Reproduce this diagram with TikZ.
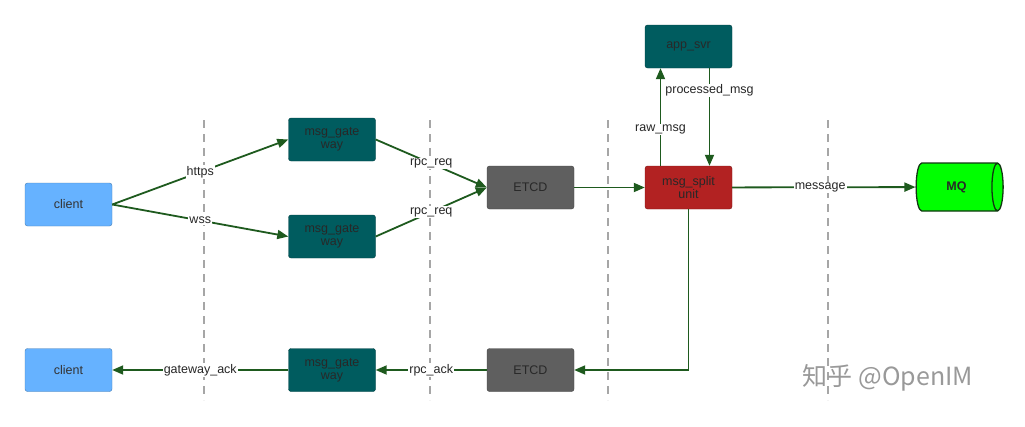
\documentclass[tikz,border=0pt]{standalone}
\usepackage{fontspec}
\setmainfont{Liberation Sans}
\newfontfamily\cjk{Noto Sans CJK SC}
\usetikzlibrary{shapes.geometric,arrows.meta}
\definecolor{arr}{RGB}{30,90,30}
\definecolor{tealc}{RGB}{0,92,95}
\definecolor{etcd}{RGB}{95,95,95}
\definecolor{cl}{RGB}{102,178,255}
\definecolor{txt}{RGB}{40,40,40}
\definecolor{redc}{RGB}{178,34,34}
\begin{document}
\begin{tikzpicture}[x=1pt,y=-1pt,
 box/.style={draw=#1!70!black,fill=#1,rounded corners=2.5pt,minimum width=87pt,minimum height=43pt,inner sep=0pt,align=center,font=\fontsize{12.5}{13}\selectfont,text=txt},
 ar/.style={draw=arr,line width=1.8pt,-{Triangle[length=11pt,width=9pt]}},
 lab/.style={fill=white,inner sep=1pt,font=\fontsize{12.5}{13}\selectfont,text=black!85},
 sep/.style={draw=gray!70,line width=1.3pt,dash pattern=on 8pt off 6pt}]
\useasboundingbox (0,0) rectangle (1025,426);
\foreach \x in {204,430,608,828} \draw[sep] (\x,120) -- (\x,400);
\node[box=cl,text=black!80] (c1) at (68.5,204.5) {client};
\node[box=tealc] (g1) at (332,139.5) {msg\_gate\\way};
\node[box=tealc] (g2) at (332,236.5) {msg\_gate\\way};
\node[box=etcd] (e1) at (530.5,187.5) {ETCD};
\node[box=redc] (s) at (688.5,187.5) {msg\_split\\unit};
\node[box=tealc] (a) at (688.5,46.5) {app\_svr};
\node[cylinder,draw=arr!60!black,line width=1.3pt,fill={rgb,255:red,0;green,255;blue,0},minimum height=87pt,minimum width=48pt,shape aspect=1.0,inner sep=0pt,font=\bfseries\fontsize{12.5}{13}\selectfont,text=txt] (mq) at (956.5,187) {MQ};
\node[box=cl,text=black!80] (c2) at (68.5,370) {client};
\node[box=tealc] (g3) at (332,370) {msg\_gate\\way};
\node[box=etcd] (e2) at (530.5,370) {ETCD};
\draw[ar] (c1.east) -- node[lab,pos=0.5]{https} (g1.west);
\draw[ar] (c1.east) -- node[lab,pos=0.5]{wss} (g2.west);
\draw[ar] (g1.east) -- node[lab,pos=0.5]{rpc\_req} (e1.west);
\draw[ar] (g2.east) -- node[lab,pos=0.5]{rpc\_req} (e1.west);
\draw[ar] (e1) -- (s);
\draw[ar] (s) -- node[lab,pos=0.48]{message} (mq);
\coordinate (s1) at ([xshift=-28pt]s.north);
\coordinate (a1) at ([xshift=-28pt]a.south);
\coordinate (s2) at ([xshift=21pt]s.north);
\coordinate (a2) at ([xshift=21pt]a.south);
\draw[ar] (s1) -- node[lab,pos=0.37]{raw\_msg} (a1);
\draw[ar] (a2) -- node[lab,pos=0.23]{processed\_msg} (s2);
\draw[ar] (s.south) |- (e2.east);
\draw[ar] (e2) -- node[lab]{rpc\_ack} (g3);
\draw[ar] (g3) -- node[lab]{gateway\_ack} (c2);
\node[text=gray!80,font=\cjk\fontsize{25}{26}\selectfont] (w) at (888,378) {知乎 @OpenIM};
\end{tikzpicture}
\end{document}
